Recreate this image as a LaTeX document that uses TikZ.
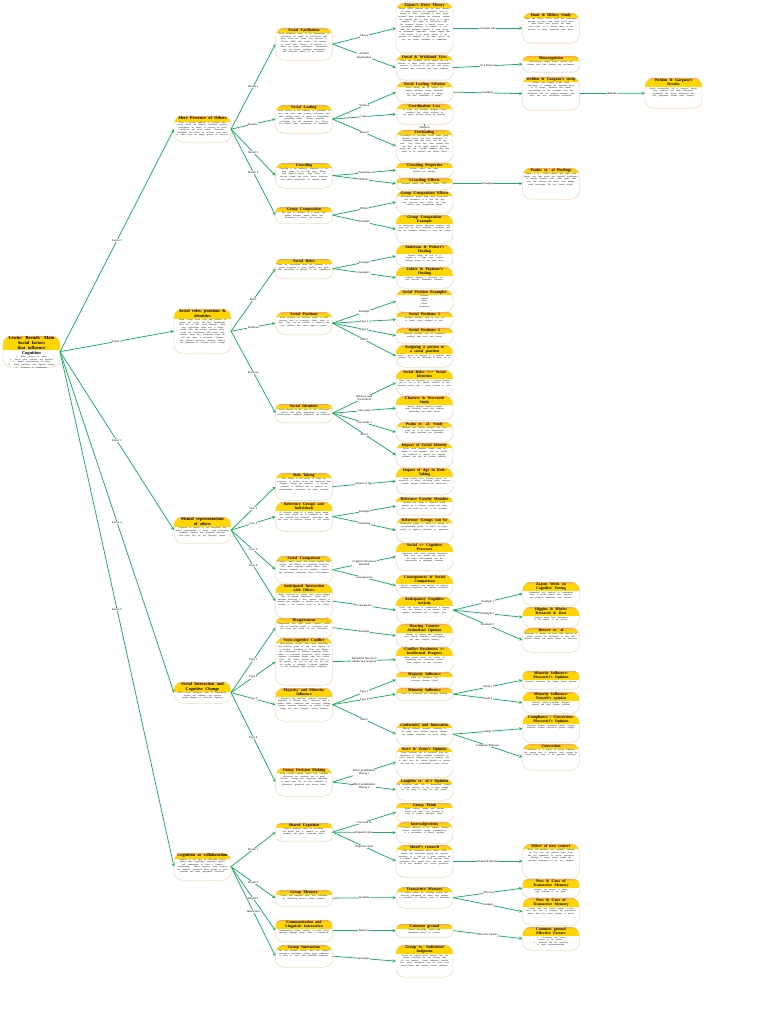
\documentclass[tikz,border=0pt]{standalone}
\usepackage{fontspec}
\setmainfont{Liberation Serif}
\usepackage{tikz}
\usepackage{xcolor}

\definecolor{bandtop}{RGB}{244,160,70}
\definecolor{bandmid}{RGB}{251,192,40}
\definecolor{bandbot}{RGB}{255,214,0}
\definecolor{mmborder}{RGB}{244,190,140}
\definecolor{edgegreen}{RGB}{30,175,95}

\newdimen\mmpx \mmpx=0.5mm
\newcommand\ttlfont{\fontsize{5.5}{6.2}\selectfont\bfseries}
\newcommand\midttlfont{\fontsize{6}{6.6}\selectfont\bfseries}
\newcommand\bigttlfont{\fontsize{6.4}{6.9}\selectfont\bfseries}
\newcommand\bdyfont{\normalfont\fontsize{3}{3.6}\selectfont}
% box of fixed height: title on top, body below
\newcommand\mmbox[4][\ttlfont]{\vbox to \dimexpr#2\mmpx-2pt\relax{#1#3\par\vspace{1.2pt}\bdyfont#4\par\vfil}}

\tikzset{
  mmnode/.style={draw=mmborder, line width=0.4pt, fill=white, rounded corners=2.5mm,
    anchor=north, text width=27mm, inner xsep=2pt, inner ysep=1pt, align=center,
    path picture={
      \fill[sharp corners, bandbot] (path picture bounding box.north west) rectangle ([yshift=-#1]path picture bounding box.north east);
      \fill[sharp corners, bandtop] (path picture bounding box.north west) rectangle ([yshift=-1.5pt]path picture bounding box.north east);
      \fill[sharp corners, bandmid] ([yshift=-1.5pt]path picture bounding box.north west) rectangle ([yshift=-3pt]path picture bounding box.north east);}},
  mmnode/.default=7pt,
  big/.style={rounded corners=4mm},
  edge/.style={draw=edgegreen, line width=1.1pt, ->},
  lbl/.style={midway, fill=white, inner sep=0.6pt, align=center, font=\fontsize{4.2}{4.6}\selectfont}
}

\begin{document}
\begin{tikzpicture}[x=0.5mm, y=-0.5mm, >=stealth]
    \useasboundingbox (0,0) rectangle (768,1024);

    % Rot
    \node[mmnode=20pt, big] (root) at (31.5,336) {\mmbox[\bigttlfont]{31}{Lewin: Berndt: Main\par Social factors that influence\par Cognition}{1. Mere presence of others\par 2. Social roles, positions and identities\par 3. Mental representations of others\par 4. Social interaction and cognitive change\par 5. Cognition as collaboration}};

    % Faktorer (nivaa 1)
    \node[mmnode=7.7pt, big] (mere) at (202.5,116) {\mmbox[\midttlfont]{26}{Mere Presence of Others}{Even a passive audience or co-actors who merely watch can influence individual cognitive performance, as shown in research on social facilitation and social loafing. Researchers distinguish the effects of co-actors from those of others who are simply present as observers.}};
    \node[mmnode=14.3pt, big] (roles) at (202.5,309) {\mmbox[\midttlfont]{44}{Social roles, positions \&\par identities}{People occupy social roles and positions in groups and society, and these memberships form part of their social identities. Roles carry expectations about how a person should think and behave, positions define status and relationships with others, and identities shape how information about the self and others is processed. Together they influence perception, attention, memory and judgement in everyday social settings.}};
    \node[mmnode=14.3pt, big] (mental) at (202.5,517) {\mmbox[\midttlfont]{26}{Mental representations\par of others}{Cognition is shaped by our knowledge and mental representations of others: their perspectives, standards, opinions and anticipated reactions, even when they are not physically present.}};
    \node[mmnode=14.3pt, big] (interact) at (202.5,682) {\mmbox[\midttlfont]{21}{Social Interaction and\par Cognitive Change}{Direct social interaction, such as disagreement, conflict and influence, can produce lasting changes in individual cognition.}};
    \node[mmnode=7.7pt, big] (collab) at (202.5,853) {\mmbox[\midttlfont]{27}{Cognition as collaboration}{Cognition is not only an individual activity: groups share knowledge, remember together and communicate to reach a common understanding. Shared cognition, group memory and linguistic interaction allow groups to solve problems and make judgements collectively.}};

    \draw[edge] (root.east) -- node[lbl]{Factor 1} (mere.west);
    \draw[edge] (root.east) -- node[lbl]{Factor 2} (roles.west);
    \draw[edge] (root.east) -- node[lbl]{Factor 3} (mental.west);
    \draw[edge] (root.east) -- node[lbl]{Factor 4} (interact.west);
    \draw[edge] (root.east) -- node[lbl]{Factor 5} (collab.west);

    % Nivaa 2
    \node[mmnode, big] (facil) at (304,28) {\mmbox{32}{Social Facilitation}{Social facilitation refers to the improvement of performance on simple or well-learned tasks when others are present, first observed by Triplett (1898) with cyclists. On complex or novel tasks, however, the presence of others can impair performance. Explanations focus on arousal, evaluation apprehension and distraction caused by an audience.}};
    \node[mmnode, big] (loafing) at (304,105) {\mmbox{28}{Social Loafing}{Social loafing is the tendency of individuals to exert less effort when working collectively than when working alone, as found in Ringelmann's rope-pulling studies. Reasons proposed: coordination loss and motivation loss. Effects are reduced when contributions are identifiable.}};
    \node[mmnode, big] (crowding) at (304,163) {\mmbox{25}{Crowding}{Crowding is the subjective experience of too many people in too little space, distinct from physical density. High density can increase arousal and stress, restrict behaviour and reduce performance on complex tasks.}};
    \node[mmnode] (groupcomp) at (304,207) {\mmbox{16}{Group Composition}{The mix of members in a group (age, gender, expertise, status) affects how information is shared and processed.}};
    \node[mmnode] (socroles) at (304,259) {\mmbox{19}{Social Roles}{Roles are expectations about the behaviour of a person occupying a given position; they guide what information is attended to and remembered.}};
    \node[mmnode, big] (socpos) at (304,312) {\mmbox{22}{Social Positions}{Social positions are locations within a social structure, such as occupation, family status or rank. They can be ascribed or achieved, and they influence how others judge a person.}};
    \node[mmnode] (socid) at (304,404) {\mmbox{18}{Social Identities}{Social identity is the part of the self-concept derived from group memberships; it affects self-perception, intergroup judgements and behaviour.}};
    \node[mmnode, big] (roletaking) at (304,473) {\mmbox{27}{Role Taking}{Role taking is the ability to adopt the perspective of another person and understand their thoughts, feelings and intentions. It develops gradually in childhood and is essential for communication, cooperation and moral reasoning.}};
    \node[mmnode=13.2pt, big] (refgroups) at (304,502) {\mmbox{29}{Reference Groups and\par Individuals}{A reference group is a group whose norms and values people use as standards for their own attitudes and behaviour. Individuals can also serve as reference persons or role models.}};
    \node[mmnode, big] (soccomp) at (304,556) {\mmbox{27}{Social Comparison}{Festinger's theory states that people evaluate their opinions and abilities by comparing themselves with others, especially similar others, when objective standards are not available. Upward and downward comparisons affect self-evaluation.}};
    \node[mmnode=13.2pt, big] (anticip) at (304,584) {\mmbox{34}{Anticipated Interaction\par with Others}{Simply expecting to interact with others changes how we process information. People who anticipate discussing a topic organise, simplify or polarise their thoughts in advance and tune their message to the expected views of the listener.}};
    \node[mmnode] (disagree) at (304,618) {\mmbox{19}{Disagreement}{Disagreement with others creates cognitive conflict that can motivate people to re-examine their own views and search for new information.}};
    \node[mmnode, big] (sococonf) at (304,638) {\mmbox{47}{Socio-cognitive Conflict}{Socio-cognitive conflict arises when individuals with different points of view work together on a problem. According to Doise and Mugny, the confrontation of different centrations forces children to coordinate perspectives, which promotes cognitive development beyond what they achieve alone. The benefit depends on the level of the partners, the type of task and the way the conflict is regulated: relational regulation is less productive than epistemic regulation.}};
    \node[mmnode=13.2pt, big] (majmin) at (304,688) {\mmbox{33}{Majority and Minority\par Influence}{Majorities and minorities influence individual judgement in different ways. Majorities tend to produce public compliance and convergent thinking, whereas consistent minorities can produce private change and more divergent, creative thinking.}};
    \node[mmnode, big] (gdm) at (304,768) {\mmbox{28}{Group Decision Making}{Group decision making studies how individual preferences are combined into a group decision. Groups may outperform individuals on some tasks but are also vulnerable to polarisation, groupthink and process losses.}};
    \node[mmnode] (sharedcog) at (304,823) {\mmbox{18}{Shared Cognition}{Shared cognition refers to knowledge and beliefs held in common by group members that guide coordinated action.}};
    \node[mmnode] (groupmem) at (304,890) {\mmbox{16}{Group Memory}{Groups can remember more than individuals by distributing memory among members.}};
    \node[mmnode=13.2pt] (commun) at (304,920) {\mmbox{21}{Communication and\par Linguistic Interaction}{Communication allows members to build shared meaning; language shapes what is remembered.}};
    \node[mmnode, big] (groupint) at (304,945) {\mmbox{22}{Group Interaction}{The way members interact, share and integrate information determines whether group judgement is better or worse than individual judgement.}};

    \draw[edge] (mere.east) -- node[lbl]{Result 1} (facil.west);
    \draw[edge] (mere.east) -- node[lbl]{Result 2} (loafing.west);
    \draw[edge] (mere.east) -- node[lbl]{Result 3} (crowding.west);
    \draw[edge] (mere.east) -- node[lbl]{Result 4} (groupcomp.west);
    \draw[edge] (roles.east) -- node[lbl]{Roles} (socroles.west);
    \draw[edge] (roles.east) -- node[lbl]{Positions} (socpos.west);
    \draw[edge] (roles.east) -- node[lbl]{Positions} (socid.west);
    \draw[edge] (mental.east) -- node[lbl]{Case 1} (roletaking.west);
    \draw[edge] (mental.east) -- node[lbl]{Case 2} (refgroups.west);
    \draw[edge] (mental.east) -- node[lbl]{Case 3} (soccomp.west);
    \draw[edge] (mental.east) -- node[lbl]{Case 4} (anticip.west);
    \draw[edge] (interact.east) -- node[lbl]{Type 1} (disagree.west);
    \draw[edge] (interact.east) -- node[lbl]{Type 2} (sococonf.west);
    \draw[edge] (interact.east) -- node[lbl]{Type 3} (majmin.west);
    \draw[edge] (interact.east) -- node[lbl]{Type 4} (gdm.west);
    \draw[edge] (collab.east) -- node[lbl]{Result 1} (sharedcog.west);
    \draw[edge] (collab.east) -- node[lbl]{Result 2} (groupmem.west);
    \draw[edge] (collab.east) -- node[lbl]{Result 3} (commun.west);
    \draw[edge] (collab.east) -- node[lbl]{Interaction} (groupint.west);

    % Nivaa 3
    \node[mmnode, big] (zajonc) at (424.5,3) {\mmbox{50}{Zajonc's Drive Theory}{Zajonc (1965) proposed that the mere presence of others increases an individual's level of arousal or drive. According to drive theory, increased drive strengthens the dominant response, the response that is most likely in a given situation. On simple or well-learned tasks the dominant response is usually correct, so performance improves; on complex or new tasks the dominant response is often wrong, so performance deteriorates. Zajonc argued that this arousal is an innate reaction to the presence of members of the same species and does not require evaluation or competition.}};
    \node[mmnode, big] (duval) at (424.5,55) {\mmbox{25}{Duval \& Wicklund View}{Duval and Wicklund (1972) argued that the presence of others creates objective self-awareness: attention is directed to the self, and people compare their behaviour with their standards.}};
    \node[mmnode, big] (slsol) at (424.5,82) {\mmbox{20}{Social Loafing Solution}{Social loafing can be reduced by making individual outputs identifiable and by giving people the feeling that their contribution is unique.}};
    \node[mmnode, big] (coordloss) at (424.5,104) {\mmbox{20}{Coordination Loss}{As group size increases, members cannot coordinate their efforts perfectly, so the group performs below its potential.}};
    \node[mmnode, big] (freeload) at (424.5,130) {\mmbox{32}{Freeloading}{Freeloading or free-riding occurs when group members believe that their contribution is dispensable and that others will do the work. They reduce their effort because they can share in the group outcome without paying the cost. Capable members may then refuse to be exploited (the sucker effect).}};
    \node[mmnode] (crowdprop) at (424.5,163) {\mmbox{14}{Crowding Properties}{Density, control over space, duration and strangers.}};
    \node[mmnode] (crowdeff) at (424.5,178) {\mmbox{11}{Crowding Effects}{Increased arousal and stress (Evans, 1979).}};
    \node[mmnode, big] (gceff) at (424.5,191) {\mmbox{22}{Group Composition Effects}{Heterogeneous groups bring more perspectives and information to a task, but may also experience more conflict and lower cohesion than homogeneous groups.}};
    \node[mmnode=13.2pt, big] (gcex) at (424.5,215) {\mmbox{28}{Group Composition\par Example}{In mixed-status groups, high-status members talk more and are more influential; information held only by low-status members is often left unused.}};
    \node[mmnode=13.2pt, big] (anderson) at (424.5,245) {\mmbox{22}{Anderson \& Pichert's\par Finding}{Readers taking the role of a burglar or a home buyer recalled different details of the same story.}};
    \node[mmnode=13.2pt, big] (zukier) at (424.5,267) {\mmbox{21}{Zukier \& Pepitone's\par Finding}{Subjects adopting a clinician's role used base-rate information differently.}};
    \node[mmnode, big] (posex) at (424.5,290) {\mmbox{22}{Social Position Examples}{Professor\par Student\par Parent\par Doctor\par Shopkeeper}};
    \node[mmnode] (pos1) at (424.5,312) {\mmbox{15}{Social Positions 1}{Ascribed positions, such as age, sex or family origin, assigned at birth.}};
    \node[mmnode] (pos2) at (424.5,328) {\mmbox{15}{Social Positions 2}{Achieved positions, such as occupation, resulting from one's own efforts.}};
    \node[mmnode=13.2pt, big] (assign) at (424.5,345) {\mmbox{22}{Assigning a person to\par a social position}{Once a person is assigned to a position, others interpret his or her behaviour in terms of it.}};
    \node[mmnode=13.2pt, big] (rolesid) at (424.5,370) {\mmbox{25}{Social Roles <=> Social\par Identities}{Roles that are important to a person become part of his or her identity; identities in turn determine which roles a person chooses to enact.}};
    \node[mmnode=13.2pt, big] (charters) at (424.5,396) {\mmbox{24}{Charters \& Newcomb\par Study}{Catholic students answered attitude items differently when their religious membership was made salient.}};
    \node[mmnode, big] (peabo) at (424.5,422) {\mmbox{20}{Peabo et. al. Study}{Members who identify strongly with their group see it as more homogeneous and judge outgroups less favourably.}};
    \node[mmnode, big] (impactid) at (424.5,443) {\mmbox{24}{Impact of Social Identity}{Salient social identities change what we attend to and remember, how we explain the behaviour of ingroup and outgroup members, and how we evaluate ourselves.}};
    \node[mmnode=13.2pt, big] (impactage) at (424.5,468) {\mmbox{26}{Impact of Age in Role-\par Taking}{Young children have difficulty taking the perspective of others; role-taking ability improves steadily through childhood and adolescence.}};
    \node[mmnode] (reffac) at (424.5,497) {\mmbox{18}{Reference Faculty Member}{Students may adopt a respected faculty member as a reference person and judge their own work by his or her standards.}};
    \node[mmnode, big] (refcan) at (424.5,518) {\mmbox{24}{Reference Groups can be}{Membership groups, to which we belong, or non-membership groups, to which we aspire; positive or negative; normative or comparative.}};
    \node[mmnode=13.2pt, big] (soccog) at (424.5,543) {\mmbox{27}{Social => Cognitive\par Processes}{Comparison with others provides information about one's own abilities and opinions and shapes self-evaluation and the interpretation of ambiguous situations.}};
    \node[mmnode=13.2pt, big] (conseq) at (424.5,575) {\mmbox{21}{Consequences of Social\par Comparison}{Upward comparison can motivate or depress; downward comparison can enhance self-esteem.}};
    \node[mmnode=13.2pt, big] (anticact) at (424.5,597) {\mmbox{26}{Anticipatory Cognitive\par Activity}{People who expect to communicate a message tune their thinking to the audience and organise information into a simpler form.}};
    \node[mmnode=13.2pt, big] (hearing) at (424.5,624) {\mmbox{23}{Hearing Counter\par Attitudinal Opinion}{Hearing an opinion that contradicts one's attitude stimulates counter-arguing and more complex thinking.}};
    \node[mmnode=13.2pt, big] (conflres) at (424.5,647) {\mmbox{25}{Conflict Resolution =>\par Intellectual Progress}{When partners resolve the conflict by coordinating their viewpoints, children show progress on later post-tests.}};
    \node[mmnode] (majinf) at (424.5,672) {\mmbox{15}{Majority Influence}{Leads to compliance and convergent thinking (Asch).}};
    \node[mmnode] (mininf) at (424.5,688) {\mmbox{12}{Minority Influence}{Leads to conversion and divergent thinking.}};
    \node[mmnode, big] (conform) at (424.5,723) {\mmbox{22}{Conformity and Innovation}{Majority influence promotes conformity to the group norm, whereas minority influence can produce innovation and social change.}};
    \node[mmnode, big] (keck) at (424.5,747) {\mmbox{30}{Kerr \& Zemo's Opinion}{Group decisions can be predicted from the distribution of initial individual preferences by social decision schemes such as majority wins or truth wins; the scheme depends on whether the task has a demonstrably correct answer.}};
    \node[mmnode, big] (laughlin) at (424.5,779) {\mmbox{21}{Laughlin et. al.'s Opinion}{On intellective tasks with a demonstrable solution, a correct minority of two is often enough for the group to adopt the right answer.}};
    \node[mmnode] (groupthink) at (424.5,803) {\mmbox{18}{Group Think}{Highly cohesive groups may suppress dissent and make poor decisions in order to preserve agreement (Janis).}};
    \node[mmnode, big] (intersub) at (424.5,822) {\mmbox{21}{Intersubjectivity}{A shared definition of the situation between partners, established through communication, is a precondition of shared cognition.}};
    \node[mmnode, big] (sherif) at (424.5,845) {\mmbox{32}{Sherif's research}{Using the autokinetic effect, Sherif (1936) showed that individuals judging the apparent movement of a light in a group converge on a common norm. This norm persisted when participants later judged alone and was passed on to new members over several generations.}};
    \node[mmnode, big] (transact) at (424.5,887) {\mmbox{21}{Transactive Memory}{A shared system for encoding, storing and retrieving information in which each member is responsible for different areas of knowledge.}};
    \node[mmnode] (commong) at (424.5,924) {\mmbox{13}{Common ground}{Mutual knowledge, beliefs and assumptions shared by partners.}};
    \node[mmnode=13.2pt, big] (gvi) at (424.5,945) {\mmbox{32}{Group vs. Individual\par Judgment}{Groups are usually more accurate than the average individual but less accurate than the best member. Group judgement benefits from pooled information, but can suffer from shared biases and pressure toward consensus.}};

    \draw[edge] (facil.east) -- node[lbl]{Theory} (zajonc.west);
    \draw[edge] (facil.east) -- node[lbl]{Another\\Explanation} (duval.west);
    \draw[edge] (loafing.east) -- node[lbl]{Solution} (slsol.west);
    \draw[edge] (loafing.east) -- node[lbl]{Cause} (coordloss.west);
    \draw[edge] (loafing.east) -- node[lbl]{Reason} (freeload.west);
    \draw[edge] (coordloss.south) -- node[lbl]{Solution} (freeload.north);
    \draw[edge] (crowding.east) -- node[lbl]{Properties} (crowdprop.west);
    \draw[edge] (crowding.east) -- node[lbl]{Effects} (crowdeff.west);
    \draw[edge] (groupcomp.east) -- node[lbl]{Effects} (gceff.west);
    \draw[edge] (groupcomp.east) -- node[lbl]{Example} (gcex.west);
    \draw[edge] (socroles.east) -- node[lbl]{Example} (anderson.west);
    \draw[edge] (socroles.east) -- node[lbl]{Example 1} (zukier.west);
    \draw[edge] (socpos.east) -- node[lbl]{Example} (posex.west);
    \draw[edge] (socpos.east) -- node[lbl]{Type 1} (pos1.west);
    \draw[edge] (socpos.east) -- node[lbl]{Type 2} (pos2.west);
    \draw[edge] (socpos.east) -- node[lbl]{Effect} (assign.west);
    \draw[edge] (socid.east) -- node[lbl]{Relation with\\Social Role} (rolesid.west);
    \draw[edge] (socid.east) -- node[lbl]{Case study} (charters.west);
    \draw[edge] (socid.east) -- node[lbl]{Case study 1} (peabo.west);
    \draw[edge] (socid.east) -- node[lbl]{Effect} (impactid.west);
    \draw[edge] (roletaking.east) -- node[lbl]{Impact of Age} (impactage.west);
    \draw[edge] (refgroups.east) -- node[lbl]{Example} (reffac.west);
    \draw[edge] (refgroups.east) -- node[lbl]{Clarifying} (refcan.west);
    \draw[edge] (soccomp.east) -- node[lbl]{Cognitive Processes\\Resulted} (soccog.west);
    \draw[edge] (soccomp.east) -- node[lbl]{Consequences} (conseq.west);
    \draw[edge] (anticip.east) -- node[lbl]{Consequence} (anticact.west);
    \draw[edge] (disagree.east) -- node[lbl]{Example} (hearing.west);
    \draw[edge] (sococonf.east) -- node[lbl]{Influential factors on\\intellectual progress} (conflres.west);
    \draw[edge] (majmin.east) -- node[lbl]{Type 1} (majinf.west);
    \draw[edge] (majmin.east) -- node[lbl]{Type 2} (mininf.west);
    \draw[edge] (majmin.east) -- node[lbl]{Effect} (conform.west);
    \draw[edge] (gdm.east) -- node[lbl]{Effect probabilistic\\Theory 1} (keck.west);
    \draw[edge] (gdm.east) -- node[lbl]{Effect probabilistic\\Theory 2} (laughlin.west);
    \draw[edge] (sharedcog.east) -- node[lbl]{Can Lead to} (groupthink.west);
    \draw[edge] (sharedcog.east) -- node[lbl]{Depends Upon} (intersub.west);
    \draw[edge] (sharedcog.east) -- node[lbl]{Depends Upon} (sherif.west);
    \draw[edge] (groupmem.east) -- node[lbl]{Includes} (transact.west);
    \draw[edge] (commun.east) -- node[lbl]{Based on} (commong.west);
    \draw[edge] (groupint.east) -- node[lbl]{Example} (gvi.west);

    % Nivaa 4 og 5
    \node[mmnode, big] (hunt) at (551,13) {\mmbox{30}{Hunt \& Hillery Study}{Hunt and Hillery (1973) found that participants learning an easy maze made fewer errors when others were present, but made more errors on a difficult maze in the presence of others, supporting drive theory.}};
    \node[mmnode] (metacog) at (551,56) {\mmbox{16}{Metacognition}{Self-awareness makes people monitor and evaluate their own thinking and performance.}};
    \node[mmnode, big] (weldon) at (551,77) {\mmbox{33}{Weldon \& Gargano's study}{Weldon and Gargano (1988) asked participants to evaluate job applicants alone or in groups. Members who shared responsibility for the evaluation used less information and less complex strategies than those who were individually responsible.}};
    \node[mmnode=13.2pt, big] (weldonres) at (673.5,78) {\mmbox{30}{Weldon \& Gargano's\par Results}{Shared responsibility led to cognitive loafing; when members were made individually accountable, the loafing disappeared and their judgements became more complex.}};
    \node[mmnode, big] (paulus) at (551,168) {\mmbox{31}{Paulus et. al Findings}{Paulus et al. (1976) showed that high room density and large group size impaired performance on complex cognitive tasks, while simple tasks were less affected; the effects were stronger when participants felt they lacked control.}};
    \node[mmnode=13.2pt, big] (zajwork) at (551,582) {\mmbox{23}{Zajonc Work on\par Cognitive Tuning}{Transmitters who expected to communicate about a person formed more organised and polarised impressions than receivers.}};
    \node[mmnode=13.2pt, big] (higgins) at (551,607) {\mmbox{20}{Higgins \& Rholes\par Research \& Dost}{Speakers tuned their descriptions to the attitude of the listener.}};
    \node[mmnode, big] (brewer) at (551,628) {\mmbox{24}{Brewer et. al}{Expecting to discuss an issue with someone of known opinion led participants to shift their attitudes toward that person before the discussion.}};
    \node[mmnode=13.2pt] (mosc) at (551,671) {\mmbox{18}{Minority Influence:\par Moscovici's Opinion}{Consistent minorities can change private opinions.}};
    \node[mmnode=13.2pt, big] (nemeth) at (551,692) {\mmbox{21}{Minority Influence:\par Nemeth's opinion}{Minority dissent stimulates divergent thinking and more original solutions.}};
    \node[mmnode=13.2pt, big] (compl) at (551,715) {\mmbox{27}{Compliance / Conversion:\par Moscovici's Opinion}{Majorities produce compliance (public change); minorities produce conversion (private change).}};
    \node[mmnode, big] (conversion) at (551,744) {\mmbox{26}{Conversion}{Conversion is a change of private judgement that appears later or indirectly, often without the person being aware of the minority's influence.}};
    \node[mmnode, big] (newcomers) at (551,844) {\mmbox{34}{Effect of new comers}{When old members were gradually replaced by new ones, the arbitrary group norm was still transmitted for several generations, although it slowly moved toward the individual judgements of the new members.}};
    \node[mmnode=13.2pt] (pros1) at (551,879) {\mmbox{18}{Pros \& Cons of\par Transactive Memory}{Increases the amount of knowledge available to the group.}};
    \node[mmnode=13.2pt, big] (pros2) at (551,898) {\mmbox{27}{Pros \& Cons of\par Transactive Memory}{Couples who had worked together recalled more than pairs of strangers, but performance suffers when the expert member is absent.}};
    \node[mmnode=13.2pt, big] (cgfact) at (551,927) {\mmbox{23}{Common ground\par Effective Factors}{1. Co-presence and shared history of the partners.\par 2. Feedback and the possibility to repair misunderstandings.}};

    \draw[edge] (zajonc.east) -- node[lbl]{Constant role} (hunt.west);
    \draw[edge] (duval.east) -- node[lbl]{In a form of} (metacog.west);
    \draw[edge] (slsol.east) -- node[lbl]{Example} (weldon.west);
    \draw[edge] (weldon.east) -- node[lbl]{Results} (weldonres.west);
    \draw[edge] (crowdeff.east) -- node[lbl]{Example} (paulus.west);
    \draw[edge] (anticact.east) -- node[lbl]{Example 1} (zajwork.west);
    \draw[edge] (anticact.east) -- node[lbl]{Example 2} (higgins.west);
    \draw[edge] (anticact.east) -- node[lbl]{Example 3} (brewer.west);
    \draw[edge] (mininf.east) -- node[lbl]{Study 1} (mosc.west);
    \draw[edge] (mininf.east) -- node[lbl]{Study 2} (nemeth.west);
    \draw[edge] (conform.east) -- node[lbl]{Study} (compl.west);
    \draw[edge] (conform.east) -- node[lbl]{Condition Behavior} (conversion.west);
    \draw[edge] (sherif.east) -- node[lbl]{Research Results} (newcomers.west);
    \draw[edge] (transact.east) -- node[lbl]{Effects} (pros1.west);
    \draw[edge] (transact.east) -- node[lbl]{Example} (pros2.west);
    \draw[edge] (commong.east) -- node[lbl]{Effective Factors} (cgfact.west);
\end{tikzpicture}
\end{document}
